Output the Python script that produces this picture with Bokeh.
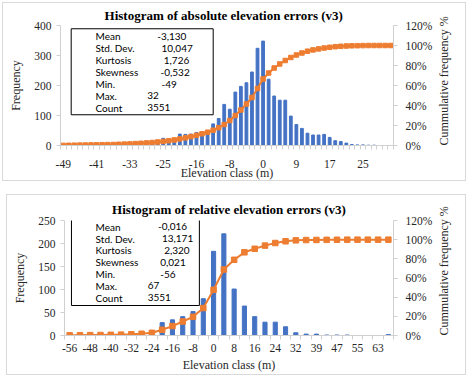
import math
from bokeh.plotting import figure
from bokeh.models import Range1d, LinearAxis, FixedTicker, Label, BoxAnnotation
from bokeh.layouts import column
from bokeh.embed import file_html
from bokeh.resources import INLINE

SERIF = "Liberation Serif"
SANS = "Lato"
BLUE = "#4472C4"
ORANGE = "#ED7D31"
AXIS = "#d0d0d0"
TEXT = "#262626"

# ---- absolute elevation errors (v3) ----
abs_freq = [1, 0, 1, 0, 1, 1, 2, 1, 2, 3, 2, 4, 5, 6, 8, 10, 12, 14,
            24, 18, 20, 38, 37, 38, 43, 46, 47, 72, 90, 137, 121, 178, 197, 209,
            245, 324, 348, 221, 165, 151, 151, 98, 70, 57, 41, 35, 35, 37, 27, 16,
            13, 8, 3, 2, 2, 1, 1, 0, 0, 0]
abs_cum = [0.1, 0.2, 0.3, 0.4, 0.5, 0.6, 0.7, 0.8, 0.9, 1.0, 1.2, 1.4, 1.6, 1.9,
           2.2, 2.6, 3.0, 3.5, 4.1, 4.8, 5.6, 6.6, 7.7, 8.9, 10.2, 11.7, 13.3, 15.3,
           17.8, 21.0, 25.0, 30.0, 35.5, 41.5, 48.0, 57.0, 66.5, 72.5, 77.5, 81.5,
           85.0, 88.0, 90.5, 92.5, 94.3, 95.6, 96.6, 97.5, 98.2, 98.8, 99.2, 99.5,
           99.7, 99.8, 99.9, 100, 100, 100, 100, 100]
abs_tick_pos = [0, 6, 12, 18, 24, 30, 36, 42, 48, 54]
abs_tick_labels = ["-49", "-41", "-33", "-25", "-16", "-8", "0", "9", "17", "25"]
abs_stat_names = ["Mean", "Std. Dev.", "Kurtosis", "Skewness", "Min.", "Max.", "Count"]
abs_stat_values = ["-3,130", "10,047", "1,726", "-0,532", "-49", "32", "3551"]

# ---- relative elevation errors (v3) ----
rel_freq = [1, 0, 1, 1, 2, 1, 3, 2, 4, 28, 34, 41, 52, 80, 183, 221, 101, 64,
            41, 29, 29, 19, 6, 3, 3, 1, 1, 1, 0, 0, 0, 2]
rel_cum = [0.2, 0.3, 0.4, 0.5, 0.7, 0.9, 1.3, 1.8, 2.8, 6.0, 9.8, 14.6, 19.5,
           28.6, 47.7, 68.9, 79.0, 86.8, 90.5, 93.8, 96.5, 98.3, 99.3, 99.6,
           99.7, 99.8, 99.9, 100, 100, 100, 100, 100]
rel_tick_pos = [0, 2, 4, 6, 8, 10, 12, 14, 16, 18, 20, 22, 24, 26, 28, 30]
rel_tick_labels = ["-56", "-48", "-40", "-32", "-24", "-16", "-8", "0", "8",
                   "16", "24", "32", "39", "47", "55", "63"]
rel_stat_names = ["Mean", "Std. Dev.", "Kurtosis", "Skewness", "Min.", "Max.", "Count"]
rel_stat_values = ["-0,016", "13,171", "2,320", "0,021", "-56", "67", "3551"]

cum_ticks = [0, 20, 40, 60, 80, 100, 120]


def style_axis_text(ax):
    ax.major_label_text_font = SERIF
    ax.major_label_text_font_size = "11.5px"
    ax.major_label_text_color = TEXT
    ax.axis_label_text_font = SERIF
    ax.axis_label_text_font_size = "12px"
    ax.axis_label_text_font_style = "normal"
    ax.axis_label_text_color = TEXT


def make_panel(title, freq, cum, tick_pos, tick_labels, ymax, ystep,
               names, vals, g):
    n = len(freq)
    W, H, ox, oy = g["W"], g["H"], g["ox"], g["oy"]
    fl, fr, ft, fb = g["frame"]
    ml = round(fl - ox)
    mr = round(W - (fr - ox))
    mt = round(ft - oy)
    mb = round(H - (fb - oy))
    fl, fr, ft, fb = ox + ml, ox + W - mr, oy + mt, oy + H - mb

    def dx(px):
        return -0.5 + (px - fl) / (fr - fl) * n

    def dy(py):
        return (fb - py) / (fb - ft) * ymax

    p = figure(width=W, height=H, output_backend="svg", toolbar_location=None,
               x_range=Range1d(-0.5, n - 0.5), y_range=Range1d(0, ymax),
               min_border_left=ml, min_border_right=mr,
               min_border_top=mt, min_border_bottom=mb)
    p.margin = g["margin"]
    p.styles = {"border": "1px solid #d9d9d9"}
    p.outline_line_color = None
    p.xgrid.visible = False
    p.ygrid.visible = False
    p.background_fill_color = "white"
    p.border_fill_color = "white"

    p.title.text = title
    p.title.align = "center"
    p.title.text_font = SERIF
    p.title.text_font_size = "13px"
    p.title.text_font_style = "bold"
    p.title.text_color = "black"
    p.title.standoff = g["title_standoff"]

    xa = p.xaxis[0]
    xa.ticker = FixedTicker(ticks=tick_pos,
                            minor_ticks=[i - 0.5 for i in range(n + 1)])
    xa.major_label_overrides = {t: lab for t, lab in zip(tick_pos, tick_labels)}
    xa.major_tick_line_color = None
    xa.major_tick_out = 0
    xa.major_tick_in = 0
    xa.minor_tick_line_color = AXIS
    xa.minor_tick_out = 4
    xa.minor_tick_in = 0
    xa.axis_line_color = AXIS
    xa.major_label_standoff = g["xlab_standoff"]
    xa.axis_label = "Elevation class (m)"
    xa.axis_label_standoff = g["xtitle_standoff"]
    style_axis_text(xa)
    # compact text boxes so the bottom axis fits the panel margin
    xa.major_label_text_line_height = 0.8
    xa.axis_label_text_line_height = 0.8

    ya = p.yaxis[0]
    ya.ticker = FixedTicker(ticks=list(range(0, ymax + 1, ystep)))
    ya.minor_tick_line_color = None
    ya.major_tick_line_color = AXIS
    ya.major_tick_out = 4
    ya.major_tick_in = 0
    ya.axis_line_color = AXIS
    ya.major_label_standoff = 5
    ya.axis_label = "Frequency"
    ya.axis_label_standoff = g["ytitle_standoff"]
    style_axis_text(ya)

    # secondary axis for the cumulative percentage, title reads bottom-to-top
    p.extra_y_ranges = {"cum": Range1d(0, 120)}
    ra = LinearAxis(y_range_name="cum", ticker=FixedTicker(ticks=cum_ticks))
    ra.major_label_overrides = {t: f"{t}%" for t in cum_ticks}
    ra.minor_tick_line_color = None
    ra.major_tick_line_color = AXIS
    ra.major_tick_out = 4
    ra.major_tick_in = 0
    ra.axis_line_color = AXIS
    ra.major_label_standoff = 8
    ra.axis_label = "Cummulative  frequency %"
    ra.axis_label_orientation = math.pi / 2
    ra.axis_label_align = "start"
    ra.axis_label_standoff = g["rtitle_standoff"]
    style_axis_text(ra)
    p.add_layout(ra, "right")

    idx = list(range(n))
    p.vbar(x=idx, top=freq, width=g["bar_w"], color=BLUE)
    p.line(x=idx, y=cum, y_range_name="cum", color=ORANGE, line_width=2)
    p.scatter(x=idx, y=cum, y_range_name="cum", marker="square",
              size=g["marker"], color=ORANGE)

    # statistics box
    bx0, by0, bx1, by1 = g["box"]
    p.add_layout(BoxAnnotation(left=dx(bx0), right=dx(bx1), top=dy(by0),
                               bottom=dy(by1), fill_color="white", fill_alpha=1,
                               line_color="black", line_width=1, line_alpha=1))
    for k, (nm, vl) in enumerate(zip(names, vals)):
        ry = g["row0"] + g["row_step"] * k
        p.add_layout(Label(x=dx(g["name_x"]), y=dy(ry), text=nm,
                           text_align="left", text_baseline="middle",
                           text_font=SANS, text_font_size="10px", text_color="black"))
        p.add_layout(Label(x=dx(g["val_x"][k]), y=dy(ry), text=vl,
                           text_align="left", text_baseline="middle",
                           text_font=SANS, text_font_size="10px", text_color="black"))
    return p


top_geo = dict(W=464, H=179, ox=3, oy=3, margin=(2, 0, 0, 2),
               frame=(60, 393, 25, 146), title_standoff=5,
               xlab_standoff=10, xtitle_standoff=-5, ytitle_standoff=8,
               rtitle_standoff=9, bar_w=0.5, marker=4.5,
               box=(70.7, 28.3, 212.7, 115), row0=36, row_step=12, name_x=95,
               val_x=[156.7, 161, 163.3, 160, 161, 146.7, 146.7])
bot_geo = dict(W=460, H=181, ox=7, oy=197, margin=(13, 0, 0, 6),
               frame=(62, 393, 222, 337), title_standoff=7,
               xlab_standoff=4, xtitle_standoff=3, ytitle_standoff=8,
               rtitle_standoff=9, bar_w=0.4, marker=5.5,
               box=(69, 220.7, 197.7, 307), row0=228.3, row_step=11.8, name_x=93.3,
               val_x=[156, 160, 162.3, 158.3, 158.3, 145.7, 145.7])

p1 = make_panel("Histogram of absolute  elevation errors  (v3)", abs_freq, abs_cum,
                abs_tick_pos, abs_tick_labels, 400, 100,
                abs_stat_names, abs_stat_values, top_geo)
p2 = make_panel("Histogram of relative elevation errors (v3)", rel_freq, rel_cum,
                rel_tick_pos, rel_tick_labels, 250, 50,
                rel_stat_names, rel_stat_values, bot_geo)

layout = column(p1, p2, spacing=0)
open("out.html", "w").write(file_html(layout, INLINE))
